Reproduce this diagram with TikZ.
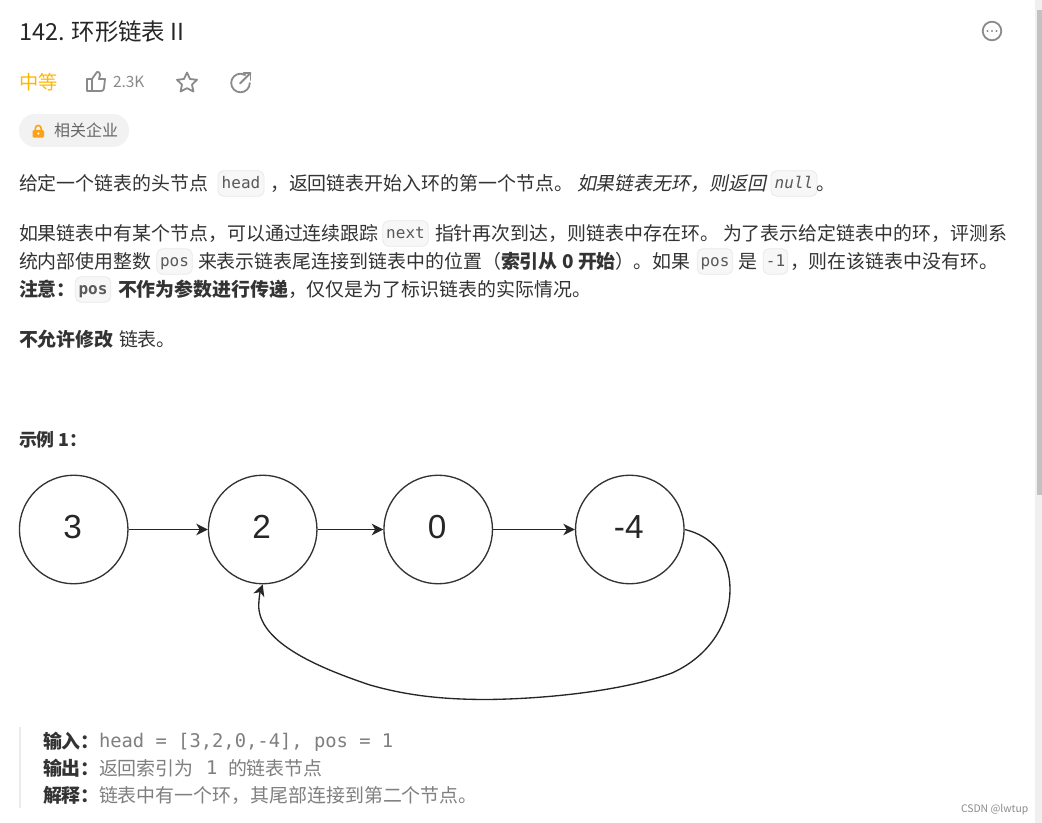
\documentclass[tikz,border=0pt]{standalone}
\usepackage{fontspec}
\usetikzlibrary{arrows.meta,positioning}
\setmainfont{Noto Sans CJK SC}
\setmonofont{DejaVu Sans Mono}
\newfontfamily\slcjk[FakeSlant=0.2]{Noto Sans CJK SC}
\newfontfamily\arialf{Liberation Sans}
\definecolor{ink}{HTML}{333333}
\definecolor{soft}{HTML}{7F7F7F}
\definecolor{chipfill}{HTML}{F7F7F8}
\definecolor{chipline}{HTML}{E9E9EA}
\definecolor{icongrey}{HTML}{8A8A8A}
\definecolor{levelc}{HTML}{FFB800}
\definecolor{lockc}{HTML}{FFA116}
\tikzset{
  x=0.75pt,y=-0.75pt,
  txt/.style={anchor=base west,inner sep=0pt,outer sep=0pt,text=ink,font=\fontsize{14.2}{17}\selectfont},
  btxt/.style={txt,font=\fontsize{14.2}{17}\selectfont\bfseries},
  greytxt/.style={txt,text=soft},
  monotxt/.style={txt,text=soft,font=\fontsize{14.1}{17}\ttfamily},
  chip/.style={draw=chipline,fill=chipfill,line width=0.6pt,rounded corners=4pt,inner sep=0pt,
    text=black!65,font=\fontsize{12}{14}\ttfamily,anchor=center,text height=8.5pt,text depth=0.5pt,minimum height=19pt},
  listnode/.style={circle,draw=ink,line width=1pt,minimum size=81.4pt,inner sep=0pt,
    font=\fontsize{25}{30}\arialf,text=black!85,text height=18pt,text depth=3.8pt},
  link/.style={draw=black!85,line width=1pt,-{Stealth[length=8.6pt,width=8.6pt,inset=2.5pt]}},
  icon/.style={draw=icongrey,line width=1.35pt,line join=round,line cap=round}
}
\begin{document}
\begin{tikzpicture}
\useasboundingbox (0,0) rectangle (1042,823);
\fill[white] (0,0) rectangle (1042,823);
% scrollbar
\fill[black!6] (1035,0) rectangle (1042,823);
\fill[black!24] (1037,10) rectangle (1042,495);

% header
\node[txt,font=\fontsize{17.6}{21}\selectfont,text=black!85] (title) at (19,41) {142. 环形链表 II};
\draw[icon] (992,31) circle (9.3);
\fill[icongrey] (987.5,31) circle (1.1) (992,31) circle (1.1) (996.5,31) circle (1.1);

\node[txt,text=levelc,font=\fontsize{14.4}{17}\selectfont] (level) at (19,90) {中等};
% thumb icon
\draw[icon] (87,79) -- (92,79) -- (92,91) -- (87,91) -- cycle;
\draw[icon] (92,79) -- (97,72) .. controls (99,71) and (100,73) .. (100,75) -- (99,79) -- (105,79) -- (104,88) .. controls (104,90) and (103,91) .. (101,91) -- (92,91);
\node[txt,text=icongrey,font=\fontsize{11.6}{14}\selectfont] (likes) at (113,88) {2.3K};
% star
\draw[icon] (187,72.5) -- (190,79) -- (197,79.8) -- (192,84.6) -- (193.4,91.5) -- (187,88.2) -- (180.6,91.5) -- (182,84.6) -- (177,79.8) -- (184,79) -- cycle;
% share
\draw[icon] (245.2,75) .. controls (243.8,74.2) and (242.2,73.7) .. (240.5,73.7)
  .. controls (235.4,73.7) and (231.2,77.9) .. (231.2,83)
  .. controls (231.2,88.1) and (235.4,92.3) .. (240.5,92.3)
  .. controls (245.6,92.3) and (249.8,88.1) .. (249.8,83);
\draw[icon] (240,83.5) -- (250.5,73);
\draw[icon] (243.5,73) -- (250.5,73) -- (250.5,80);

% pill
\node[fill=black!5,rounded corners=12pt,minimum width=82.5pt,minimum height=24.7pt,inner sep=0pt] (pill) at (74,130.5) {};
\fill[lockc,rounded corners=1pt] (32.5,130) rectangle (44,137.6);
\draw[lockc,line width=1.2pt] (35.3,130.5) -- (35.3,128.5) .. controls (35.3,124.5) and (41.2,124.5) .. (41.2,128.5) -- (41.2,130.5);
\fill[white] (38.3,133.6) circle (1.2);
\node[txt,text=black!60,font=\fontsize{12}{14}\selectfont] (company) at (54,137) {相关企业};

% paragraph 1
\node[txt] (p1a) at (19,191) {给定一个链表的头节点};
\node[chip,minimum width=34.5pt] (chead) at (241,183.5) {head};
\node[txt] (p1b) at (270,191) {，};
\node[txt] (p1c) at (289,191) {返回链表开始入环的第一个节点。};
\node[txt,font=\fontsize{14.2}{17}\slcjk] (p1d) at (577,191) {如果链表无环，则返回};
\node[chip,minimum width=34.5pt,font=\fontsize{12}{14}\ttfamily\itshape] (cnull) at (794,183.5) {null};
\node[txt] (p1e) at (816,191) {。};

% paragraph 2
\node[txt] (p2a) at (19,241) {如果链表中有某个节点，可以通过连续跟踪};
\node[chip,minimum width=34pt] (cnext) at (405.5,233.5) {next};
\node[txt] (p2b) at (435,241) {指针再次到达，则链表中存在环。};
\node[txt] (p2c) at (723,241) {为了表示给定链表中的环，评测系};

\node[txt] (p3a) at (19,269) {统内部使用整数};
\node[chip,minimum width=26.5pt] (cpos1) at (174.5,261.5) {pos};
\node[txt] (p3b) at (198,269) {来表示链表尾连接到链表中的位置（};
\node[btxt] (p3c) at (501,269) {索引从 0 开始};
\node[txt] (p3d) at (615,269) {）。如果};
\node[chip,minimum width=26.5pt] (cpos2) at (715,261.5) {pos};
\node[txt] (p3e) at (738,269) {是};
\node[chip,minimum width=18.5pt] (cneg) at (775.5,261.5) {-1};
\node[txt] (p3f) at (790,269) {，则在该链表中没有环。};

\node[btxt] (p4a) at (19,297) {注意：};
\node[chip,minimum width=26.5pt,font=\fontsize{12}{14}\ttfamily\bfseries] (cpos3) at (93,289.5) {pos};
\node[btxt] (p4b) at (118,297) {不作为参数进行传递};
\node[txt] (p4c) at (288,297) {，仅仅是为了标识链表的实际情况。};

\node[btxt] (p5a) at (19,347) {不允许修改};
\node[txt] (p5b) at (119,347) {链表。};

\node[btxt,font=\fontsize{13.4}{17}\selectfont\bfseries] (example) at (19,446) {示例 1：};

% linked list
\node[listnode] (n3) at (73.7,529.5) {\kern-1.5pt 3};
\node[listnode] (n2) at (262.7,529.5) {\kern-1.5pt 2};
\node[listnode] (n0) at (438.2,529.5) {\kern-1.5pt 0};
\node[listnode] (nm) at (629.8,529.5) {\kern-1.5pt -4};
\draw[link] (n3) -- (n2);
\draw[link] (n2) -- (n0);
\draw[link] (n0) -- (nm);
\draw[link] (nm.east) .. controls (712,536) and (730,556) .. (730,590)
  .. controls (730,620) and (712,655) .. (672,673)
  .. controls (620,692) and (540,699) .. (487,699.5)
  .. controls (440,699.5) and (405,695) .. (370,685)
  .. controls (310,665) and (258.5,640) .. (258.7,605)
  .. controls (259,598) and (260,592) .. (n2.south);

% example block
\fill[black!8] (19,727) rectangle (21,808);
\node[btxt] (e1a) at (43,748) {输入：};
\node[monotxt] (e1b) at (99,747) {head = [3,2,0,-4], pos = 1};
\node[btxt] (e2a) at (43,775) {输出：};
\node[greytxt] (e2b) at (99,775) {返回索引为};
\node[monotxt] (e2c) at (206,774) {1};
\node[greytxt] (e2d) at (228,775) {的链表节点};
\node[btxt] (e3a) at (43,802) {解释：};
\node[greytxt] (e3b) at (99,802) {链表中有一个环，其尾部连接到第二个节点。};

\node[txt,text=black!45,font=\fontsize{7.8}{10}\selectfont] (mark) at (961,812) {CSDN @lwtup};
\end{tikzpicture}
\end{document}
